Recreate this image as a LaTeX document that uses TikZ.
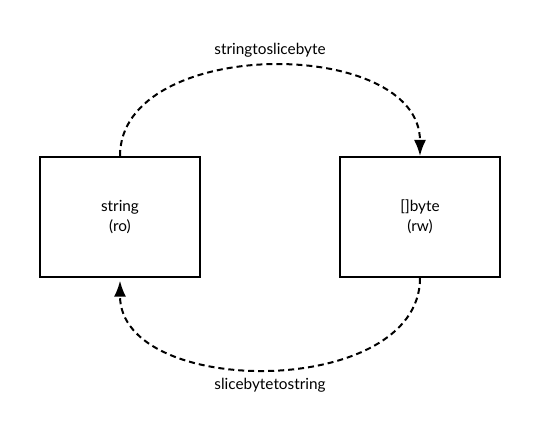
\documentclass[tikz,border=0pt]{standalone}
\usepackage{fontspec}
\setmainfont{Lato}
\usetikzlibrary{arrows.meta}
\tikzset{
  membox/.style={draw, line width=1.5pt, minimum width=120pt, minimum height=90pt,
    align=center, font=\fontsize{11.5}{15}\selectfont},
  convert/.style={line width=1.5pt, dash pattern=on 4.5pt off 3pt,
    -{Latex[length=12pt,width=9pt]}},
  fnlabel/.style={font=\fontsize{11.5}{14}\selectfont}
}
\begin{document}
\begin{tikzpicture}[x=0.75pt,y=0.75pt]
  \useasboundingbox (0,0) rectangle (540,435);
  \node [membox] (str) at (120,218) {string\\(ro)};
  \node [membox] (bytes) at (420,218) {[]byte\\(rw)};
  % conversions
  \draw [convert] (str.north) .. controls +(0,120) and +(0,120) .. (bytes.north);
  \draw [convert, shorten >=2pt] (bytes.south) .. controls +(0,-121) and +(0,-121) .. (str.south);
  \node [fnlabel] (s2b) at (270,385) {stringtoslicebyte};
  \node [fnlabel] (b2s) at (270,50) {slicebytetostring};
\end{tikzpicture}
\end{document}
